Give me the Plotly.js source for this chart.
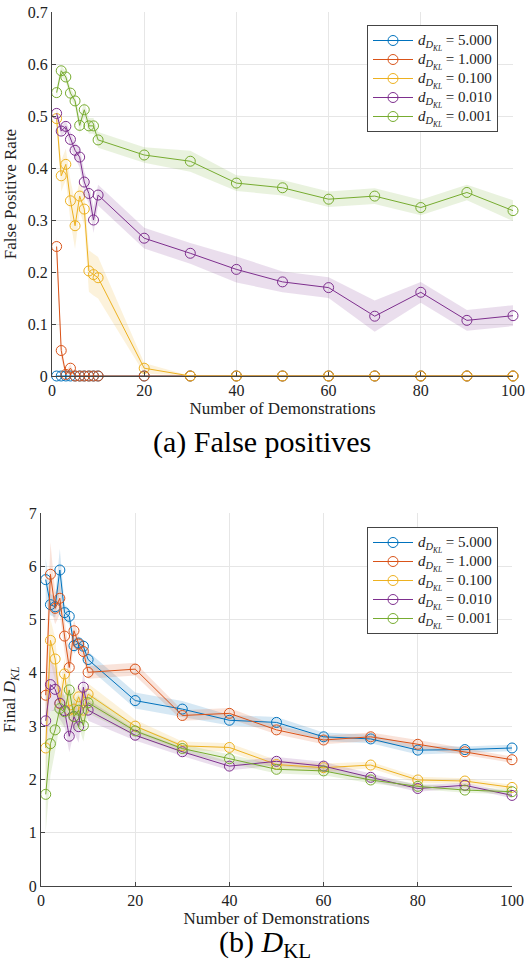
<!DOCTYPE html>
<html><head><meta charset="utf-8">
<script src="https://cdn.plot.ly/plotly-3.0.1.min.js"></script>
<style>html,body{margin:0;padding:0;background:#fff}#plot{width:530px;height:970px}</style>
</head><body><div id="plot"></div>
<script>
// ---- data ----
const demos = [1,2,3,4,5,6,7,8,9,10,20,30,40,50,60,70,80,90,100];
const seriesNames = ['5.000','1.000','0.100','0.010','0.001'];
const colors = ['#0072BD','#D95319','#EDB120','#7E2F8E','#77AC30'];

// (a) false positive rate
const fpr_5000 = [0,0,0,0,0,0,0,0,0,0,0,0,0,0,0,0,0,0,0];
const fpr_1000 = [0.249,0.049,0.003,0.015,0,0,0,0,0,0,0,0,0,0,0,0,0,0,0];
const fpr_0100 = [0.495,0.385,0.407,0.337,0.289,0.346,0.321,0.202,0.195,0.189,0.015,0,0,0,0,0,0,0,0];
const fpr_0010 = [0.505,0.471,0.480,0.455,0.434,0.421,0.373,0.351,0.300,0.348,0.265,0.236,0.205,0.181,0.170,0.115,0.161,0.107,0.116];
const fpr_0001 = [0.545,0.587,0.575,0.544,0.529,0.482,0.512,0.481,0.481,0.454,0.425,0.413,0.371,0.362,0.340,0.346,0.324,0.353,0.318];
const fprSpread_5000 = [0,0,0,0,0,0,0,0,0,0,0,0,0,0,0,0,0,0,0];
const fprSpread_1000 = [0.02,0.015,0.005,0.008,0,0,0,0,0,0,0,0,0,0,0,0,0,0,0];
const fprSpread_0100 = [0.01,0.03,0.03,0.04,0.045,0.03,0.03,0.04,0.04,0.04,0.01,0,0,0,0,0,0,0,0];
const fprSpread_0010 = [0.01,0.01,0.01,0.015,0.015,0.02,0.02,0.02,0.025,0.02,0.02,0.02,0.025,0.02,0.02,0.03,0.02,0.02,0.02];
const fprSpread_0001 = [0.01,0.01,0.01,0.01,0.01,0.015,0.015,0.015,0.015,0.015,0.015,0.02,0.015,0.015,0.015,0.015,0.015,0.015,0.02];

// (b) final D_KL
const dkl_5000 = [5.75,5.28,5.24,5.93,5.13,5.06,4.51,4.56,4.50,4.25,3.48,3.32,3.11,3.07,2.80,2.76,2.55,2.56,2.59];
const dkl_1000 = [3.58,5.85,5.21,5.40,4.69,4.10,4.79,4.54,4.40,4.01,4.07,3.20,3.24,2.93,2.74,2.80,2.66,2.52,2.37];
const dkl_0100 = [2.59,4.61,4.26,3.42,3.98,3.30,3.32,3.55,3.30,3.60,3.00,2.63,2.60,2.28,2.22,2.27,1.99,1.97,1.85];
const dkl_0010 = [3.10,3.78,3.69,3.43,3.29,2.81,3.18,2.99,3.73,3.30,2.83,2.52,2.25,2.34,2.25,2.04,1.83,1.89,1.70];
const dkl_0001 = [1.72,2.67,2.93,3.33,3.27,3.68,3.18,3.30,3.01,3.44,2.91,2.58,2.39,2.19,2.16,1.99,1.87,1.80,1.77];
const dklSpread_5000 = [0.4,0.2,0.2,0.4,0.15,0.15,0.15,0.1,0.1,0.15,0.15,0.15,0.1,0.1,0.08,0.08,0.08,0.06,0.06];
const dklSpread_1000 = [0.5,0.6,0.3,0.3,0.3,0.3,0.2,0.15,0.15,0.12,0.12,0.1,0.1,0.08,0.08,0.08,0.08,0.06,0.06];
const dklSpread_0100 = [0.8,0.4,0.4,0.3,0.3,0.3,0.3,0.25,0.3,0.2,0.12,0.08,0.08,0.08,0.08,0.06,0.06,0.05,0.05];
const dklSpread_0010 = [0.6,0.5,0.4,0.3,0.3,0.3,0.3,0.3,0.3,0.2,0.1,0.08,0.08,0.08,0.08,0.07,0.06,0.05,0.05];
const dklSpread_0001 = [0.7,0.6,0.4,0.3,0.3,0.3,0.3,0.3,0.3,0.2,0.1,0.08,0.08,0.08,0.08,0.06,0.05,0.05,0.05];

const fprSeries = [fpr_5000,fpr_1000,fpr_0100,fpr_0010,fpr_0001];
const fprSpreads = [fprSpread_5000,fprSpread_1000,fprSpread_0100,fprSpread_0010,fprSpread_0001];
const dklSeries = [dkl_5000,dkl_1000,dkl_0100,dkl_0010,dkl_0001];
const dklSpreads = [dklSpread_5000,dklSpread_1000,dklSpread_0100,dklSpread_0010,dklSpread_0001];

function hexA(h,a){const r=parseInt(h.slice(1,3),16),g=parseInt(h.slice(3,5),16),b=parseInt(h.slice(5,7),16);return `rgba(${r},${g},${b},${a})`;}
const FONT = 'Liberation Serif, DejaVu Serif, serif';

const traces = [];
function addPanel(series, spreads, xa, ya, legendId, clampZero){
  series.forEach((ys,i)=>{
    const up = ys.map((v,k)=>v+spreads[i][k]);
    const lo = ys.map((v,k)=>clampZero?Math.max(0,v-spreads[i][k]):v-spreads[i][k]);
    traces.push({x: demos.concat(demos.slice().reverse()), y: up.concat(lo.slice().reverse()),
      xaxis:xa, yaxis:ya, type:'scatter', mode:'lines', fill:'toself',
      fillcolor: hexA(colors[i],0.16), line:{width:0,color:'rgba(0,0,0,0)'},
      hoverinfo:'skip', showlegend:false});
  });
  series.forEach((ys,i)=>{
    traces.push({x: demos, y: ys, xaxis:xa, yaxis:ya, type:'scatter', mode:'lines+markers',
      name: '<span style="font-size:15px"><i>d</i><sub><i>D</i><sub><i>KL</i></sub></sub> = ' + seriesNames[i] + '</span>',
      legend: legendId, cliponaxis:false,
      line:{color:colors[i], width:1},
      marker:{symbol:'circle-open', size:10, color:colors[i], line:{width:1,color:colors[i]}}});
  });
}
addPanel(fprSeries, fprSpreads, 'x', 'y', 'legend', true);
addPanel(dklSeries, dklSpreads, 'x2', 'y2', 'legend2', false);

const axBase = {showline:true, linecolor:'#444', linewidth:1, mirror:false, showgrid:true,
  gridcolor:'#e6e6e6', gridwidth:1, zeroline:false, ticks:'inside', ticklen:4, tickcolor:'#444',
  tickfont:{family:FONT, size:16, color:'#222'}};
const legBase = {bgcolor:'#fff', bordercolor:'#444', borderwidth:1,
  font:{family:FONT, size:12, color:'#222'}, xanchor:'right', yanchor:'top', tracegroupgap:0, itemwidth:40};
const titleFont = {family:FONT, size:17, color:'#222'};

const layout = {
  width:530, height:970, margin:{l:0,r:0,t:0,b:0}, paper_bgcolor:'#fff', plot_bgcolor:'#fff',
  showlegend:true,
  xaxis: Object.assign({}, axBase, {domain:[52/530, 513/530], anchor:'y', range:[0,100], tickvals:[0,20,40,60,80,100],
    title:{text:'Number of Demonstrations', font:titleFont, standoff:2}}),
  yaxis: Object.assign({}, axBase, {domain:[(970-376)/970, (970-12)/970], anchor:'x', range:[0,0.7], tickvals:[0,0.1,0.2,0.3,0.4,0.5,0.6,0.7],
    title:{text:'False Positive Rate', font:titleFont, standoff:6}}),
  xaxis2: Object.assign({}, axBase, {domain:[41/530, 512/530], anchor:'y2', range:[0,100], tickvals:[0,20,40,60,80,100],
    title:{text:'Number of Demonstrations', font:titleFont, standoff:2}}),
  yaxis2: Object.assign({}, axBase, {domain:[(970-886)/970, (970-513)/970], anchor:'x2', range:[0,7], tickvals:[0,1,2,3,4,5,6,7],
    title:{text:'Final <i>D</i><sub><i>KL</i></sub>', font:titleFont, standoff:8}}),
  legend: Object.assign({}, legBase, {x:498/530, y:(970-25)/970}),
  legend2: Object.assign({}, legBase, {x:498/530, y:(970-527)/970}),
  annotations:[
    {text:'(a) False positives', xref:'paper', yref:'paper', x:262/530, y:(970-442)/970, xanchor:'center', yanchor:'middle',
     showarrow:false, font:{family:FONT, size:30, color:'#000'}},
    {text:'(b) <i>D</i><sub>KL</sub>', xref:'paper', yref:'paper', x:265/530, y:(970-944)/970, xanchor:'center', yanchor:'middle',
     showarrow:false, font:{family:FONT, size:30, color:'#000'}}
  ]
};
Plotly.newPlot('plot', traces, layout, {staticPlot:true, displayModeBar:false});
</script>
</body></html>
